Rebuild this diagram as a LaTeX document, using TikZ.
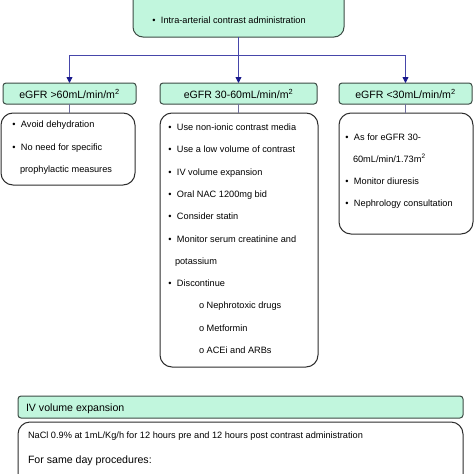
\documentclass[tikz,border=0pt]{standalone}
\usepackage{fontspec}
\setmainfont{Liberation Sans}
\usetikzlibrary{arrows.meta}
\definecolor{mint}{RGB}{193,246,221}
\definecolor{gbord}{RGB}{60,75,68}
\definecolor{cbord}{RGB}{45,45,45}
\definecolor{busc}{RGB}{70,70,170}
\definecolor{tipc}{RGB}{25,25,140}
\definecolor{linkc}{RGB}{110,110,155}
\newcommand\myb{\llap{•\hspace{5.5pt}}}
\begin{document}
\begin{tikzpicture}[x=1pt,y=-1pt,
 hdr/.style={draw=gbord, fill=mint, line width=1pt, rounded corners=3pt, inner sep=0pt, outer sep=0pt, anchor=north west, font=\fontsize{10.6}{12}\selectfont},
 cbox/.style={draw=cbord, line width=1pt, rounded corners=12pt, inner sep=0pt, outer sep=0pt, anchor=north west},
 txt/.style={inner sep=0pt, outer sep=0pt, anchor=base west, font=\fontsize{9.2}{11}\selectfont},
 bigtxt/.style={txt, font=\fontsize{10.6}{12}\selectfont},
 bus/.style={draw=busc, line width=0.8pt},
 arr/.style={bus, -{Triangle[length=6pt,width=6pt,color=tipc]}},
 link/.style={draw=linkc, line width=0.8pt}]
\useasboundingbox (0,0) rectangle (474,474);
\clip (0,0) rectangle (474,474);
\fill[white] (0,0) rectangle (474,474);

% top box
\node[hdr, rounded corners=10pt, minimum width=211pt, minimum height=77pt] (top) at (133,-40) {};
\node[txt] (t0) at (161,23.5) {\myb Intra-arterial contrast administration};

% headers
\node[hdr, minimum width=133pt, minimum height=21pt] (h1) at (3,83) {eGFR >60mL/min/m\textsuperscript{2}};
\node[hdr, minimum width=157pt, minimum height=21pt] (h2) at (160,83) {eGFR 30-60mL/min/m\textsuperscript{2}};
\node[hdr, minimum width=133pt, minimum height=21pt] (h3) at (339,83) {eGFR <30mL/min/m\textsuperscript{2}};

% bus and arrows
\coordinate (bus) at (238.5,55);
\draw[bus] (top.south) -- (bus);
\draw[arr] (bus) -| (h1.north);
\draw[arr] (bus) -- (h2.north);
\draw[arr] (bus) -| (h3.north);

% content boxes
\node[cbox, minimum width=134pt, minimum height=72pt] (c1) at (1,113) {};
\node[cbox, minimum width=158pt, minimum height=254pt] (c2) at (160,113) {};
\node[cbox, minimum width=134pt, minimum height=121pt] (c3) at (339,113) {};

\draw[link] (h1.south) -- (h1.south |- c1.north);
\draw[link] (h2.south) -- (h2.south |- c2.north);
\draw[link] (h3.south) -- (h3.south |- c3.north);

% box 1 text
\node[txt] (a1) at (21,127.5) {\myb Avoid dehydration};
\node[txt] (a2) at (21,150.5) {\myb No need for specific};
\node[txt] (a3) at (20,172.5) {prophylactic measures};

% box 2 text
\node[txt] (b1) at (177,130.5) {\myb Use non-ionic contrast media};
\node[txt] (b2) at (177,152.8) {\myb Use a low volume of contrast};
\node[txt] (b3) at (177,175.1) {\myb IV volume expansion};
\node[txt] (b4) at (177,197.4) {\myb Oral NAC 1200mg bid};
\node[txt] (b5) at (177,219.7) {\myb Consider statin};
\node[txt] (b6) at (177,242.0) {\myb Monitor serum creatinine and};
\node[txt] (b7) at (175,264.3) {potassium};
\node[txt] (b8) at (177,286.6) {\myb Discontinue};
\node[txt] (b9) at (199,308.9) {o Nephrotoxic drugs};
\node[txt] (b10) at (199,331.2) {o Metformin};
\node[txt] (b11) at (199,353.5) {o ACEi and ARBs};

% box 3 text
\node[txt] (d1) at (354,140.5) {\myb As for eGFR 30-};
\node[txt] (d2) at (353,162.5) {60mL/min/1.73m\textsuperscript{2}};
\node[txt] (d3) at (354,184.5) {\myb Monitor diuresis};
\node[txt] (d4) at (354,206.5) {\myb Nephrology consultation};

% bottom
\node[hdr, minimum width=445pt, minimum height=22pt] (hb) at (18,396) {};
\node[bigtxt] (hbt) at (26,411) {IV volume expansion};
\node[cbox, minimum width=445pt, minimum height=110pt] (cb) at (18,422) {};
\node[txt] (e1) at (28,438.5) {NaCl 0.9\% at 1mL/Kg/h for 12 hours pre and 12 hours post contrast administration};
\node[bigtxt] (e2) at (28,463) {For same day procedures:};
\end{tikzpicture}
\end{document}
